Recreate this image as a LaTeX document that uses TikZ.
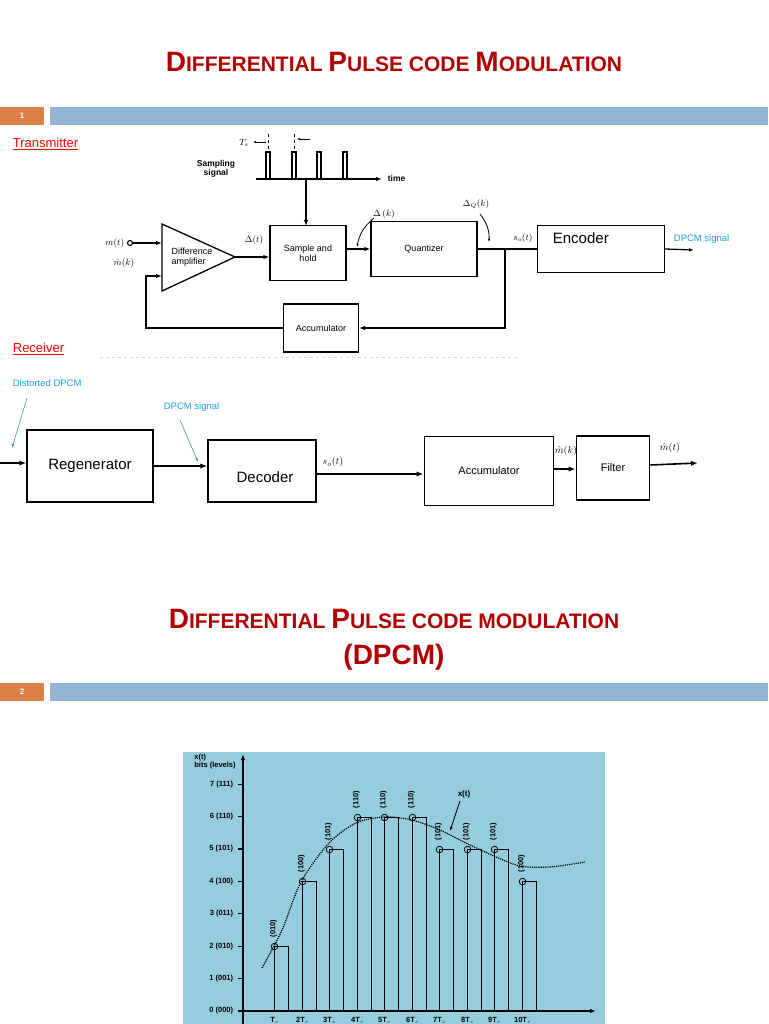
\documentclass[tikz,border=0pt]{standalone}
\usepackage{fontspec}
\setmainfont{Liberation Sans}
\usetikzlibrary{arrows.meta}
\definecolor{tred}{RGB}{178,0,0}
\definecolor{barblue}{RGB}{148,182,210}
\definecolor{barorange}{RGB}{221,128,71}
\definecolor{cyanl}{RGB}{30,160,220}
\definecolor{plotbg}{RGB}{150,205,222}
\begin{document}
\begin{tikzpicture}[x=1pt,y=-1pt,line width=1.1pt,
  sig/.style={line width=1.3pt,-{Latex[length=6pt]}},
  lab/.style={font=\fontsize{9}{10}\selectfont\itshape},
  sm/.style={font=\fontsize{9}{10}\selectfont},
  bl/.style={text=cyanl,font=\fontsize{9.5}{10}\selectfont},
  ttl/.style={text=tred,font=\bfseries}]
\useasboundingbox (0,0) rectangle (768,1024);
% ---------- header 1
\node[ttl,anchor=base] (t1) at (394,72) {\fontsize{28}{30}\selectfont D\fontsize{21}{24}\selectfont IFFERENTIAL \fontsize{28}{30}\selectfont P\fontsize{21}{24}\selectfont ULSE CODE \fontsize{28}{30}\selectfont M\fontsize{21}{24}\selectfont ODULATION};
\fill[barorange] (0,107) rectangle (44,125);
\fill[barblue] (50,107) rectangle (768,125);
\node[text=white,font=\bfseries\fontsize{8}{9}\selectfont] (n1) at (22,116) {1};
\node[anchor=west,text=red,font=\fontsize{13}{14}\selectfont] (tx) at (9,144) {\underline{Transmitter}};
% sampling signal
\draw[line width=1.1pt,-{Latex[length=6pt]}] (256,179) -- (382,179);
\node[anchor=west,font=\fontsize{8.5}{9}\selectfont\bfseries] (time) at (384,178) {time};
\node[align=center,font=\fontsize{8.5}{9}\selectfont\bfseries] (ss) at (216,169) {Sampling\\signal};
\foreach \x in {268,294,319,345}{\draw (\x-2,179) -- (\x-2,152) -- (\x+2,152) -- (\x+2,179);}
\draw[dashed,line width=0.8pt] (268,134) -- (268,150);
\draw[dashed,line width=0.8pt] (294,134) -- (294,150);
\node[lab] (ts) at (244,143) {$T_s$};
\draw[line width=0.8pt,-{Latex[length=3pt]}] (266,142) -- (253,142);
\draw[line width=0.8pt,-{Latex[length=3pt]}] (310,139) -- (297,139);
% blocks
\draw[line width=1.3pt] (162,224) -- (235,257) -- (162,291) -- cycle;
\node[align=left,sm] (da) at (192,257) {Difference\\amplifier};
\node[draw,line width=1.3pt,minimum width=76pt,minimum height=55pt,align=center,sm] (sh) at (308,253) {Sample and\\hold};
\node[draw,line width=1.3pt,minimum width=106pt,minimum height=55pt,sm] (q) at (424,249) {Quantizer};
\node[draw,line width=0.8pt,minimum width=127pt,minimum height=47pt] (enc) at (601,249) {};
\node[anchor=north west,font=\fontsize{15}{16}\selectfont] (enct) at (549,229) {Encoder};
\node[draw,line width=1.3pt,minimum width=75pt,minimum height=48pt,sm] (acc) at (321,328) {Accumulator};
\coordinate (ap) at (235,257);
\coordinate (tin2) at (162,276);
\draw[sig] (ap) -- (sh.west |- ap);
\draw[sig] (306,179) -- (306,226);
\draw[sig] (sh.east |- 0,249) -- (q.west);
\draw[line width=1.3pt] (q.east) -- (enc.west);
\draw[line width=1.3pt,-{Latex[length=5pt]}] (enc.east) -- (694,250);
\node[bl,anchor=west] (dpcm1) at (670,239) {DPCM signal};
\coordinate (fb) at (505,249);
\draw[sig] (fb) |- (acc.east);
\draw[sig] (acc.west) -| (146,276) -- (tin2);
\draw (130,243) circle (2.5);
\draw[sig] (132.5,243) -- (162,243);
\node[lab,anchor=east] (mt) at (128,243) {$m(t)$};
\node[lab,anchor=east] (mk) at (138,263) {$\hat m(k)$};
\node[lab] (dt) at (254,240) {$\Delta(t)$};
\node[lab] (dk) at (384,214) {$\Delta\,(k)$};
\draw[line width=0.8pt,-{Latex[length=3pt]}] (374,218) to[bend right=20] (357,247);
\node[lab] (dq) at (476,204) {$\Delta_Q(k)$};
\draw[line width=0.8pt,-{Latex[length=3pt]}] (480,214) to[bend left=20] (489,242);
\node[lab] (so) at (523,238) {$s_o(t)$};
% ---------- receiver
\node[anchor=west,text=red,font=\fontsize{13}{14}\selectfont] (rx) at (9,349) {\underline{Receiver}};
\draw[gray!30,dashed,line width=0.5pt] (100,357) -- (520,357);
\node[bl,anchor=west] (dist) at (9,383) {Distorted DPCM};
\draw[cyanl!60!gray,line width=0.6pt,-{Latex[length=4pt]}] (27,398) -- (12,448);
\node[bl,anchor=west] (dp2) at (160,407) {DPCM signal};
\draw[cyanl!60!gray,line width=0.6pt,-{Latex[length=4pt]}] (180,420) -- (198,462);
\node[draw,line width=1.2pt,minimum width=126pt,minimum height=72pt,font=\fontsize{15}{16}\selectfont] (reg) at (90,466) {Regenerator};
\node[draw,line width=1.2pt,minimum width=108pt,minimum height=62pt] (dec) at (262,471) {};
\node[font=\fontsize{15}{16}\selectfont] (dect) at (265,477) {Decoder};
\node[draw,line width=1.8pt,minimum width=129pt,minimum height=69pt,font=\fontsize{11}{12}\selectfont] (racc) at (489,471) {Accumulator};
\node[draw,line width=1.8pt,minimum width=73pt,minimum height=64pt,font=\fontsize{11}{12}\selectfont] (filt) at (613,468) {Filter};
\coordinate (rin) at (0,463);
\coordinate (rout) at (698,463);
\draw[line width=1.6pt,-{Latex[length=7pt]}] (rin) -- (reg.west |- rin);
\draw[line width=1.6pt,-{Latex[length=7pt]}] (reg.east) -- (dec.west |- reg.east);
\draw[line width=1.6pt,-{Latex[length=7pt]}] (dec.east |- 0,474) -- (racc.west |- 0,474);
\draw[line width=1.6pt,-{Latex[length=7pt]}] (racc.east |- 0,469) -- (filt.west |- 0,469);
\draw[line width=1.6pt,-{Latex[length=7pt]}] (filt.east |- 0,465) -- (rout);
\node[font=\fontsize{10}{11}\selectfont] (so2) at (333,462) {$s_o(t)$};
\node[font=\fontsize{10}{11}\selectfont] (mk2) at (566,451) {$\hat m(k)$};
\node[font=\fontsize{10}{11}\selectfont] (mt2) at (670,448) {$\hat m(t)$};
% ---------- header 2
\node[ttl,align=center] (t2) at (394,640) {\fontsize{28}{32}\selectfont D\fontsize{21}{24}\selectfont IFFERENTIAL \fontsize{28}{30}\selectfont P\fontsize{21}{24}\selectfont ULSE CODE MODULATION\\[14pt]\fontsize{28}{32}\selectfont (DPCM)};
\fill[barorange] (0,683) rectangle (44,701);
\fill[barblue] (50,683) rectangle (768,701);
\node[text=white,font=\bfseries\fontsize{8}{9}\selectfont] (n2) at (22,692) {2};
% ---------- plot
\fill[plotbg] (183,752) rectangle (605,1024);
\draw[line width=1.3pt,-{Latex[length=6pt]}] (243,1024) -- (243,754);
\draw[line width=1.3pt,-{Latex[length=6pt]}] (238,1011) -- (596,1011);
\node[font=\bfseries\fontsize{7.5}{8}\selectfont,align=left] (yl) at (215,762) {x(t)\\bits (levels)};
\foreach \v/\b in {0/000,1/001,2/010,3/011,4/100,5/101,6/110,7/111}{
  \ifnum\v>0 \draw (238,1011-32.4*\v) -- (243,1011-32.4*\v);\fi
  \node[anchor=east,font=\bfseries\fontsize{7.5}{8}\selectfont] at (237,1011-32.4*\v) {\v\ (\b)};}
\foreach \i/\v/\b in {1/2/010,2/4/100,3/5/101,4/6/110,5/6/110,6/6/110,7/5/101,8/5/101,9/5/101,10/4/100}{
  \pgfmathsetmacro{\xx}{round(274+27.5*(\i-1))+0.5}
  \pgfmathsetmacro{\yy}{round(1011-32.4*\v)+0.5}
  \draw[line width=1.2pt] (\xx,1011) -- (\xx,\yy) -- (\xx+14,\yy) -- (\xx+14,1011);
  \draw[line width=0.8pt] (\xx,\yy) circle (3.3);
  \node[rotate=90,font=\bfseries\fontsize{7.5}{8}\selectfont] at (\xx-1,\yy-18) {(\b)};
  \node[font=\bfseries\fontsize{7.5}{8}\selectfont] at (\xx,1020) {\ifnum\i=1\else\i\fi T$_s$};}
\draw[line width=1.2pt,densely dotted] plot[smooth] coordinates {(262,968) (282,930) (301,882) (329,843) (356,823) (384,817) (412,820) (440,830) (466,843) (494,856) (520,866) (550,867) (585,862)};
\node[font=\bfseries\fontsize{8}{9}\selectfont] (xt) at (464,794) {x(t)};
\draw[line width=0.9pt,-{Latex[length=4pt]}] (460,801) -- (450,831);
\end{tikzpicture}
\end{document}
